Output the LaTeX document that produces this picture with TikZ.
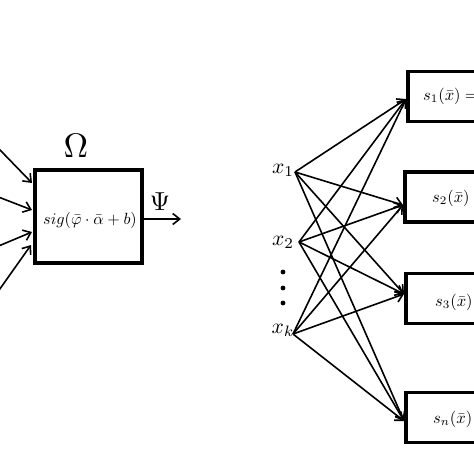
\documentclass[tikz,border=0pt]{standalone}
\usepackage{graphicx}
\usetikzlibrary{arrows.meta,calc}
\begin{document}
\begin{tikzpicture}[x=1pt,y=-1pt,
  conn/.style={line width=1.6pt,-{Straight Barb[length=7pt,width=11pt]}},
  blk/.style={draw,line width=3.5pt,minimum width=140pt,minimum height=50pt,anchor=west,inner sep=0pt},
  lbl/.style={inner sep=0pt}]
\useasboundingbox (0,0) rectangle (474,474);
\clip (0,0) rectangle (474,474);
% ---------- left neuron ----------
\node[draw,line width=3.5pt,minimum width=107pt,minimum height=93pt,inner sep=0pt] (omega) at (88.5,216.5) {};
\node[lbl] (sig) at (90,220) {\scalebox{1.62}{$sig(\bar{\varphi}\cdot\bar{\alpha}+b)$}};
\node[lbl] (Om) at (76,146) {\scalebox{3.4}{$\Omega$}};
\node[lbl] (Ps) at (160,202) {\scalebox{2.6}{$\Psi$}};
\coordinate (out) at (181,219);
\draw[conn] (omega.east |- out) -- (out);
\coordinate (i1) at (-30,119);
\coordinate (i2) at (-30,186);
\coordinate (i3) at (-30,258);
\coordinate (i4) at (-20,317);
\coordinate (j1) at (32,183);
\coordinate (j2) at (32,210);
\coordinate (j3) at (32,232);
\coordinate (j4) at (31,245);
\draw[conn] (i1) -- (j1);
\draw[conn] (i2) -- (j2);
\draw[conn] (i3) -- (j3);
\draw[conn] (i4) -- (j4);
% ---------- right layer ----------
\node[blk] (b1) at (406,96.5) {};
\node[blk] (b2) at (403,197) {};
\node[blk] (b3) at (404,298.5) {};
\node[blk] (bn) at (404,417.5) {};
\node[lbl,anchor=west] (s1) at (423,96) {\scalebox{1.65}{$s_1(\bar{x})=$}};
\node[lbl,anchor=west] (s2) at (432,198) {\scalebox{1.65}{$s_2(\bar{x})$}};
\node[lbl,anchor=west] (s3) at (435,302) {\scalebox{1.65}{$s_3(\bar{x})$}};
\node[lbl,anchor=west] (sn) at (433,419) {\scalebox{1.65}{$s_n(\bar{x})$}};
\node[lbl] (x1) at (283,170) {\scalebox{2.15}{$x_1$}};
\node[lbl] (x2) at (283,242) {\scalebox{2.15}{$x_2$}};
\node[lbl] (xk) at (283,330) {\scalebox{2.15}{$x_k$}};
\fill (283,272) circle (2.4pt);
\fill (283,288) circle (2.4pt);
\fill (283,303) circle (2.4pt);
\coordinate (a1) at (295,172);
\coordinate (a2) at (299,242);
\coordinate (ak) at (293,334);
\coordinate (t1) at (406,99);
\coordinate (t2) at (403,205);
\coordinate (t3) at (404,294);
\coordinate (tn) at (404,421);
\foreach \a in {a1,a2,ak}{
  \foreach \t in {t1,t2,t3,tn}{
    \draw[conn] (\a) -- (\t);
  }
}
\end{tikzpicture}
\end{document}
